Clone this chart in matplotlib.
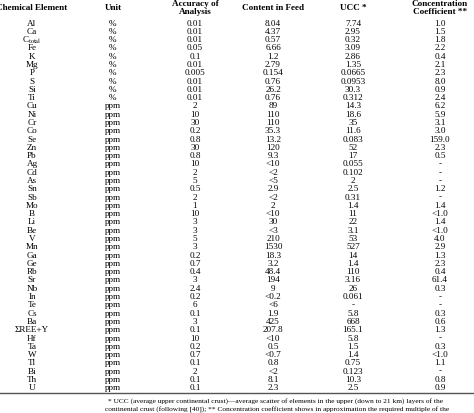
import matplotlib
matplotlib.use("Agg")
import matplotlib.pyplot as plt

elements = ["Al","Ca","C$_{\\rm total}$","Fe","K","Mg","P","S","Si","Ti","Cu","Ni","Cr","Co","Se","Zn","Pb","Ag","Cd","As","Sn","Sb","Mo","B","Li","Be","V","Mn","Ga","Ge","Rb","Sr","Nb","In","Te","Cs","Ba","ΣREE+Y","Hf","Ta","W","Tl","Bi","Th","U"]
units = ["%"]*10 + ["ppm"]*35
accuracy = ["0.01","0.01","0.01","0.05","0.1","0.01","0.005","0.01","0.01","0.01","2","10","30","0.2","0.8","30","0.8","10","2","5","0.5","2","1","10","3","3","5","3","0.2","0.7","0.4","3","2.4","0.2","6","0.1","3","0.1","10","0.2","0.7","0.1","2","0.1","0.1"]
content = ["8.04","4.37","0.57","6.66","1.2","2.79","0.154","0.76","26.2","0.76","89","110","110","35.3","13.2","120","9.3","<10","<2","<5","2.9","<2","2","<10","30","<3","210","1530","18.3","3.2","48.4","194","9","<0.2","<6","1.9","425","207.8","<10","0.5","<0.7","0.8","<2","8.1","2.3"]
ucc = ["7.74","2.95","0.32","3.09","2.86","1.35","0.0665","0.0953","30.3","0.312","14.3","18.6","35","11.6","0.083","52","17","0.055","0.102","2","2.5","0.31","1.4","11","22","3.1","53","527","14","1.4","110","3.16","26","0.061","-","5.8","668","165.1","5.8","1.5","1.4","0.75","0.123","10.3","2.5"]
coef = ["1.0","1.5","1.8","2.2","0.4","2.1","2.3","8.0","0.9","2.4","6.2","5.9","3.1","3.0","159.0","2.3","0.5","-","-","-","1.2","-","1.4","<1.0","1.4","<1.0","4.0","2.9","1.3","2.3","0.4","61.4","0.3","-","-","0.3","0.6","1.3","-","0.3","<1.0","1.1","-","0.8","0.9"]
headers = ["Chemical Element","Unit","Accuracy of\nAnalysis","Content in Feed","UCC *","Concentration\nCoefficient **"]

W, H = 474, 413
fig = plt.figure(figsize=(W/100, H/100), dpi=100)
fig.patch.set_facecolor("white")
plt.rcParams["font.family"] = ["Liberation Serif", "DejaVu Serif"]
plt.rcParams["mathtext.fontset"] = "stix"

xs = [32, 113, 195, 273, 353, 440]
def T(x, y, s, **kw):
    fig.text(x/W, 1 - y/H, s, ha="center", va="center", fontsize=6.6, **kw)

for x, h in zip(xs, headers):
    T(x, 8, h, fontweight="bold", linespacing=0.9)

y0, dy = 23.5, 8.29
for i in range(len(elements)):
    y = y0 + i*dy
    for x, col in zip(xs, [elements, units, accuracy, content, ucc, coef]):
        T(x, y, col[i])

yl = 1 - 393/H
fig.add_artist(plt.Line2D([0, 1], [yl, yl], color="#555555", lw=1.0, transform=fig.transFigure))
fig.text(108/W, 1 - 401/H, "* UCC (average upper continental crust)—average scatter of elements in the upper (down to 21 km) layers of the",
         fontsize=5.3, va="center", ha="left")
fig.text(105/W, 1 - 410/H, "continental crust (following [40]); ** Concentration coefficient shows in approximation the required multiple of the",
         fontsize=5.3, va="center", ha="left")
fig.savefig("out.png", dpi=100)
